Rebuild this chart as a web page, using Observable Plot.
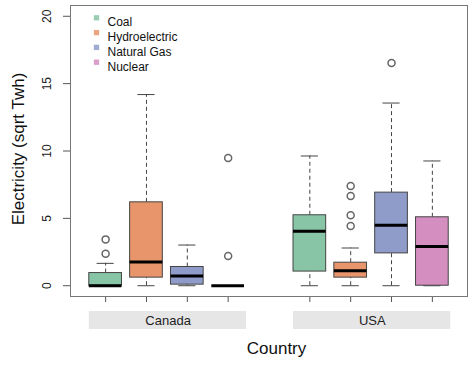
<!DOCTYPE html>
<html>
<head>
<meta charset="utf-8">
<script src="https://cdn.jsdelivr.net/npm/d3@7"></script>
<script src="https://cdn.jsdelivr.net/npm/@observablehq/plot@0.6"></script>
<style>
  body { margin: 0; background: #fff; }
  #chart svg { display: block; }
</style>
</head>
<body>
<div id="chart"></div>
<script>
// ---- data ----
const countries = ["Canada", "USA"];
const sources = ["Coal", "Hydroelectric", "Natural Gas", "Nuclear"];
const colors = ["#88c5a7", "#e8956b", "#8f9cc9", "#d48ec0"];

// per box, in order Canada(Coal,Hydro,Gas,Nuclear), USA(Coal,Hydro,Gas,Nuclear)
const whiskerLow  = [0, 0,    0,    0, 0,    0,    0,     0];
const q1          = [0, 0.6,  0.08, 0, 1.05, 0.6,  2.4,   0];
const median      = [0, 1.76, 0.72, 0, 4.04, 1.12, 4.48,  2.92];
const q3          = [0.94, 6.19, 1.39, 0, 5.23, 1.71, 6.91, 5.08];
const whiskerHigh = [1.66, 14.19, 3.02, 0, 9.63, 2.8, 13.56, 9.26];

const outlierCountry = ["Canada", "Canada", "Canada", "Canada", "USA", "USA", "USA", "USA", "USA"];
const outlierSource  = ["Coal", "Coal", "Nuclear", "Nuclear", "Hydroelectric", "Hydroelectric", "Hydroelectric", "Hydroelectric", "Natural Gas"];
const outlierValue   = [2.38, 3.44, 2.2, 9.48, 4.43, 5.23, 6.66, 7.4, 16.53];

const yTicks = [0, 5, 10, 15, 20];

// ---- build tables ----
const pos = (c, s) => countries.indexOf(c) * 5 + sources.indexOf(s) + 1;
const boxes = [];
countries.forEach((c, ci) => sources.forEach((s, si) => {
  const i = ci * 4 + si;
  boxes.push({country: c, source: s, x: pos(c, s),
    lo: whiskerLow[i], q1: q1[i], med: median[i], q3: q3[i], hi: whiskerHigh[i]});
}));
const outliers = outlierValue.map((v, i) => ({x: pos(outlierCountry[i], outlierSource[i]), y: v}));
const strips = countries.map((c, i) => ({country: c, x1: i * 5 + 0.6, x2: i * 5 + 4.45, cx: i * 5 + 2.53}));

const font = "'Liberation Sans', Arial, Helvetica, sans-serif";
const halfBox = 0.4, halfCap = 0.21;
const stroke = "#444";

const legendMarks = sources.flatMap((s, i) => [
  Plot.dot([s], {frameAnchor: "top-left", dx: 26, dy: 12.3 + i * 14.8, symbol: "square", r: 3, fill: colors[i], fillOpacity: 0.85}),
  Plot.text([s], {frameAnchor: "top-left", dx: 37, dy: 12.3 + i * 14.8, text: d => d, textAnchor: "start", fontSize: 12, fill: "#111"})
]);

const chart = Plot.plot({
  width: 474,
  height: 369,
  marginLeft: 70,
  marginRight: 7,
  marginTop: 5,
  marginBottom: 73,
  style: {fontFamily: font, background: "#fff", overflow: "visible"},
  x: {domain: [0.14, 9.86], axis: null},
  y: {domain: [-0.8, 20.8], axis: null},
  color: {domain: sources, range: colors},
  marks: [
    // x ticks below the frame
    Plot.axisX({ticks: boxes.map(d => d.x), tickSize: 6, tickFormat: () => "", stroke: "#555"}),
    // y ticks
    Plot.axisY({ticks: yTicks, tickSize: 7, tickFormat: () => "", stroke: "#555"}),
    Plot.text(yTicks, {y: d => d, frameAnchor: "left", dx: -23, rotate: -90, textAnchor: "middle", text: d => String(d), fontSize: 12, fill: "#222"}),
    // whiskers
    Plot.ruleX(boxes, {x: "x", y1: "q3", y2: "hi", stroke, strokeDasharray: "4,3"}),
    Plot.ruleX(boxes, {x: "x", y1: "lo", y2: "q1", stroke, strokeDasharray: "4,3"}),
    Plot.ruleY(boxes, {y: "hi", x1: d => d.x - halfCap, x2: d => d.x + halfCap, stroke}),
    Plot.ruleY(boxes, {y: "lo", x1: d => d.x - halfCap, x2: d => d.x + halfCap, stroke}),
    // boxes
    Plot.rect(boxes, {x1: d => d.x - halfBox, x2: d => d.x + halfBox, y1: "q1", y2: "q3", fill: "source", stroke, strokeWidth: 1}),
    // medians
    Plot.ruleY(boxes, {y: "med", x1: d => d.x - halfBox, x2: d => d.x + halfBox, stroke: "#000", strokeWidth: 3}),
    // outliers
    Plot.dot(outliers, {x: "x", y: "y", r: 3.5, stroke: "#666", strokeWidth: 1.5, fill: "none"}),
    // frame
    Plot.frame({stroke: "#777"}),
    // country strips
    Plot.rect(strips, {x1: "x1", x2: "x2", y1: -1.91, y2: -3.25, fill: "#e6e6e6"}),
    Plot.text(strips, {x: "cx", y: -2.58, text: "country", fontSize: 13, fill: "#222"}),
    // axis titles
    Plot.text(["Electricity (sqrt Twh)"], {frameAnchor: "left", dx: -52, dy: -2, rotate: -90, textAnchor: "middle", text: d => d, fontSize: 17, fill: "#111"}),
    Plot.text(["Country"], {frameAnchor: "bottom", dx: 7.5, dy: 57, text: d => d, fontSize: 17, fill: "#111"}),
    ...legendMarks
  ]
});
document.getElementById("chart").appendChild(chart);
</script>
</body>
</html>
